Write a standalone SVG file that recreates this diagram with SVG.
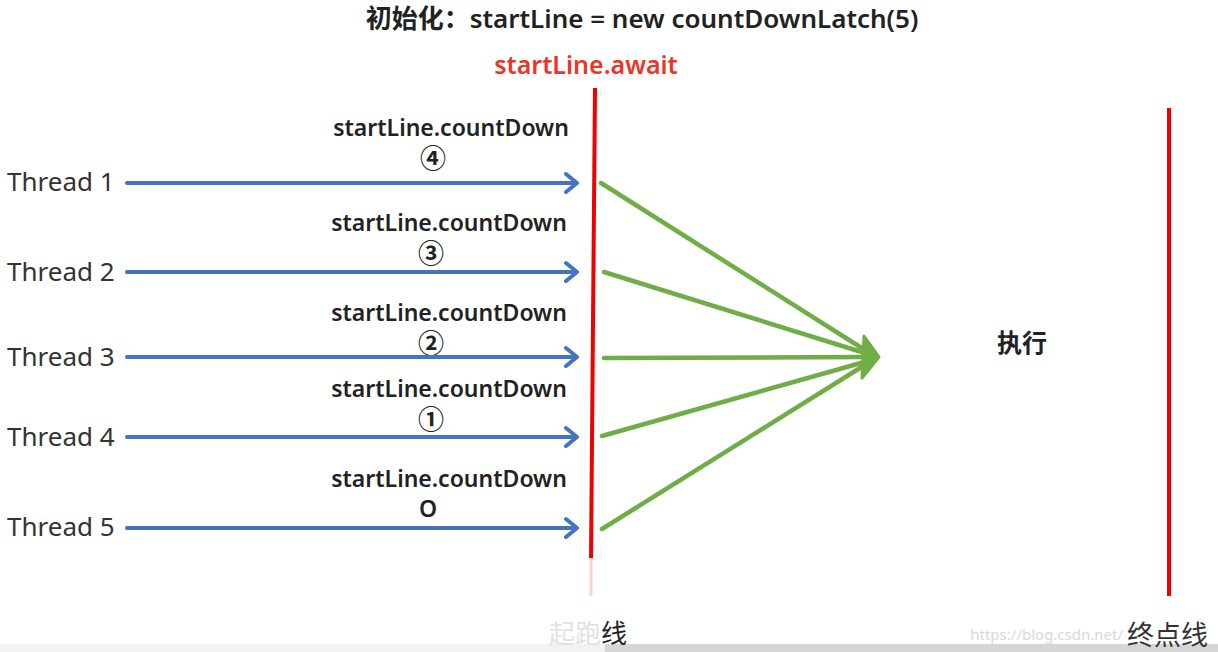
<svg xmlns="http://www.w3.org/2000/svg" width="1218" height="652" viewBox="0 0 1218 652">
<style>
.t{font-family:"Noto Sans","Noto Sans CJK SC",sans-serif;fill:#222}
.title{font-size:26px;font-weight:600}
.thr{font-size:26px;fill:#333}
.cd{font-size:23px;font-weight:600;text-anchor:middle}
.num{font-size:26px;font-weight:600;text-anchor:middle}
.blue{stroke:#4472C4;stroke-width:4;fill:none;stroke-linecap:round;stroke-linejoin:round}
.green{stroke:#70AD47;stroke-width:4.5;fill:none;stroke-linecap:round}
.red{stroke:#F00000;stroke-width:4;fill:none}
</style>
<rect width="1218" height="652" fill="#fff"/>
<rect x="0" y="644" width="1218" height="8" fill="#f2f2f2"/>
<rect x="605" y="644" width="613" height="8" fill="#d6d6d6"/>

<g id="title"><text class="t title" x="642" y="28" text-anchor="middle">初始化：startLine = new countDownLatch(5)</text></g>
<g id="await"><text class="t" x="586" y="74" text-anchor="middle" style="font-size:25px;font-weight:600;fill:#E8362A">startLine.await</text></g>

<g id="startLine">
<line class="red" x1="595" y1="88" x2="591" y2="558"/>
<line x1="591" y1="558" x2="591" y2="596" stroke="#FFD0D0" stroke-width="3"/>
<text class="t" x="549" y="643" style="font-size:26px;fill:#e2e2e2">起跑<tspan style="fill:#222">线</tspan></text>
</g>

<g id="finishLine">
<line class="red" x1="1169" y1="108" x2="1169" y2="596"/>
<text class="t" x="1123" y="640" text-anchor="end" style="font-size:15px;fill:#d8d8d8">https://blog.csdn.net/</text>
<text class="t" x="1127" y="645" style="font-size:27px;fill:#333">终点线</text>
</g>

<g id="thread1"><text class="t thr" x="7" y="191">Thread  1</text></g>
<g id="thread2"><text class="t thr" x="7" y="281">Thread  2</text></g>
<g id="thread3"><text class="t thr" x="7" y="366">Thread  3</text></g>
<g id="thread4"><text class="t thr" x="7" y="446">Thread  4</text></g>
<g id="thread5"><text class="t thr" x="7" y="536">Thread  5</text></g>

<g id="exec"><text class="t" x="997" y="352" style="font-size:25px;font-weight:700">执行</text></g>

<g id="labels">
<text class="t cd" x="451" y="136">startLine.countDown</text>
<text class="t num" x="433" y="168">④</text>
<text class="t cd" x="449" y="231">startLine.countDown</text>
<text class="t num" x="431" y="263">③</text>
<text class="t cd" x="449" y="321">startLine.countDown</text>
<text class="t num" x="431" y="353">②</text>
<text class="t cd" x="449" y="397">startLine.countDown</text>
<text class="t num" x="431" y="429">①</text>
<text class="t cd" x="449" y="487">startLine.countDown</text>
<text class="t" x="428" y="517" style="font-size:23px;font-weight:600;text-anchor:middle">O</text>
</g>

<g id="connectors">
<path class="blue" d="M127,183 H576 M566,174 L577,183 L566,192"/>
<path class="blue" d="M127,272 H576 M566,263 L577,272 L566,281"/>
<path class="blue" d="M127,357 H576 M566,348 L577,357 L566,366"/>
<path class="blue" d="M127,437 H576 M566,428 L577,437 L566,446"/>
<path class="blue" d="M127,528 H576 M566,519 L577,528 L566,537"/>
<line class="green" x1="601" y1="183" x2="868" y2="352"/>
<line class="green" x1="604" y1="272" x2="868" y2="354"/>
<line class="green" x1="604" y1="358" x2="866" y2="357"/>
<line class="green" x1="602" y1="436" x2="868" y2="361"/>
<line class="green" x1="602" y1="529" x2="868" y2="363"/>
<path d="M864,336 L879,357 L862,378 Z" fill="#70AD47" stroke="#70AD47" stroke-width="3" stroke-linejoin="round"/>
</g>
</svg>
